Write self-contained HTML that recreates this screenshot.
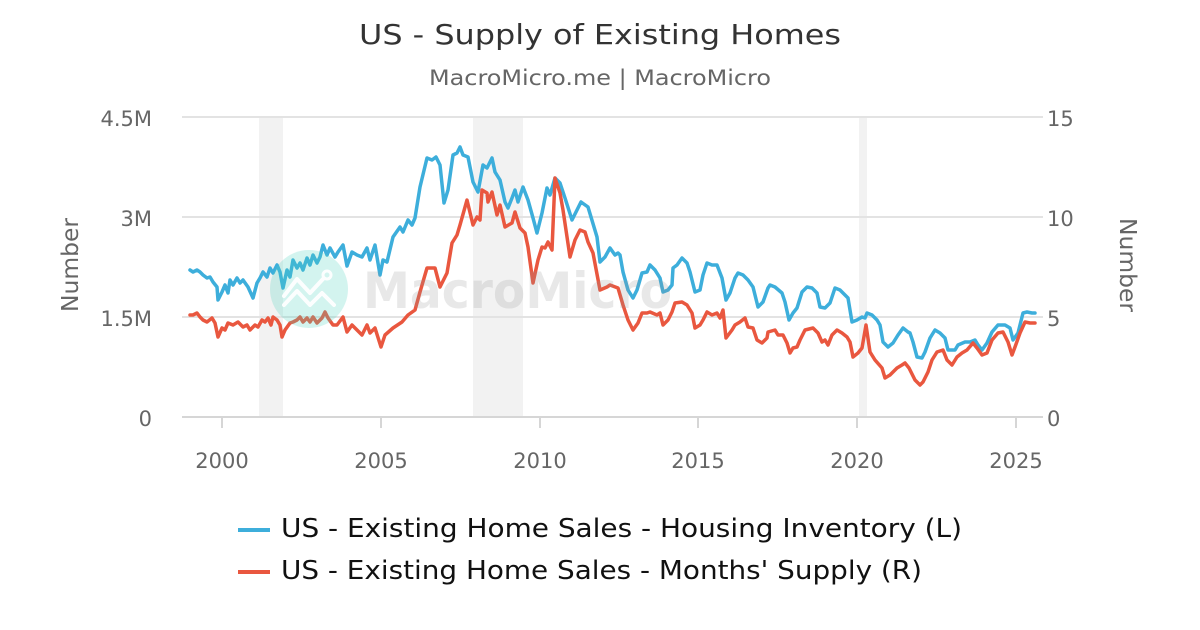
<!DOCTYPE html>
<html><head><meta charset="utf-8"><style>
html,body{margin:0;padding:0;background:#fff;}
svg{display:block;font-family:"DejaVu Sans","Liberation Sans",sans-serif;}
</style></head><body>
<svg width="1200" height="630" viewBox="0 0 1200 630" xmlns="http://www.w3.org/2000/svg">
<rect width="1200" height="630" fill="#fff"/>
<text x="600" y="44" text-anchor="middle" font-size="28" fill="#333" textLength="482" lengthAdjust="spacingAndGlyphs">US - Supply of Existing Homes</text>
<text x="600" y="85" text-anchor="middle" font-size="21" fill="#666" textLength="342" lengthAdjust="spacingAndGlyphs">MacroMicro.me | MacroMicro</text>

<rect x="259" y="117" width="24" height="300" fill="#f2f2f2"/>
<rect x="473" y="117" width="50" height="300" fill="#f2f2f2"/>
<rect x="859" y="117" width="8" height="300" fill="#f2f2f2"/>

<g stroke="#e3e3e3" stroke-width="2">
<line x1="182" y1="117" x2="1043" y2="117"/>
<line x1="182" y1="217" x2="1043" y2="217"/>
<line x1="182" y1="317" x2="1043" y2="317"/>
</g>
<line x1="182" y1="417" x2="1043" y2="417" stroke="#d6d6d6" stroke-width="2"/>
<g stroke="#d6d6d6" stroke-width="2">
<line x1="222" y1="417" x2="222" y2="428"/>
<line x1="381" y1="417" x2="381" y2="428"/>
<line x1="540" y1="417" x2="540" y2="428"/>
<line x1="698" y1="417" x2="698" y2="428"/>
<line x1="857" y1="417" x2="857" y2="428"/>
<line x1="1016" y1="417" x2="1016" y2="428"/>
</g>

<g font-size="21" fill="#666" text-anchor="end">
<text x="152" y="126">4.5M</text>
<text x="152" y="226">3M</text>
<text x="152" y="326">1.5M</text>
<text x="152" y="426">0</text>
</g>
<g font-size="21" fill="#666" text-anchor="start">
<text x="1047" y="126">15</text>
<text x="1047" y="226">10</text>
<text x="1047" y="326">5</text>
<text x="1047" y="426">0</text>
</g>
<g font-size="21" fill="#666" text-anchor="middle">
<text x="222" y="468">2000</text>
<text x="381" y="468">2005</text>
<text x="540" y="468">2010</text>
<text x="698" y="468">2015</text>
<text x="857" y="468">2020</text>
<text x="1016" y="468">2025</text>
</g>
<text transform="translate(78,265) rotate(-90)" text-anchor="middle" font-size="23" fill="#666" textLength="94" lengthAdjust="spacingAndGlyphs">Number</text>
<text transform="translate(1120,265) rotate(90)" text-anchor="middle" font-size="23" fill="#666" textLength="94" lengthAdjust="spacingAndGlyphs">Number</text>

<polyline fill="none" stroke="#3daedb" stroke-width="3.5" stroke-linejoin="round" stroke-linecap="round" points="190,270 193,272 197,270 200,272 203,275 207,278 210,277 213,282 217,287 218,300 222,292 225,285 228,293 230,280 233,285 237,278 240,283 243,280 248,287 253,298 257,283 260,278 263,272 267,277 270,268 273,273 277,265 280,272 283,288 287,270 290,277 293,260 297,268 300,263 303,270 307,258 310,265 313,255 317,263 320,257 323,245 327,255 330,248 335,257 338,252 343,245 347,266 352,252 357,255 362,257 367,248 370,260 375,245 380,275 383,260 387,262 393,237 400,227 403,232 408,220 412,225 415,218 420,187 427,158 432,160 436,157 440,165 444,203 448,190 453,155 457,153 460,147 463,155 468,157 473,182 478,192 483,165 487,168 492,158 495,172 500,180 505,202 508,208 512,198 515,190 518,202 523,187 528,200 533,218 537,233 542,213 547,188 550,195 555,178 560,183 565,198 572,220 577,210 581,202 588,207 597,237 600,262 605,257 610,248 615,255 618,253 620,255 623,272 628,290 633,298 637,290 642,273 647,272 650,265 655,270 660,278 663,292 668,290 672,285 673,268 677,265 682,258 687,263 690,272 695,292 700,290 703,275 707,263 712,265 717,265 722,278 726,300 730,293 735,278 738,273 743,275 748,280 753,287 758,307 763,302 768,288 770,285 775,287 782,293 785,302 789,320 793,313 797,308 802,292 807,287 812,288 817,293 820,307 825,308 830,303 835,288 840,290 845,295 848,298 852,322 857,320 862,317 865,318 867,313 872,315 877,320 880,325 883,342 888,347 893,343 898,335 903,328 908,332 910,333 913,342 917,357 922,358 925,352 930,338 935,330 940,333 945,338 948,350 955,350 958,345 965,342 970,342 975,340 978,345 982,350 987,343 992,332 998,325 1005,325 1010,328 1013,340 1018,333 1023,313 1027,312 1032,313 1035,313"/>
<polyline fill="none" stroke="#e9573f" stroke-width="3.5" stroke-linejoin="round" stroke-linecap="round" points="190,315 193,315 197,313 200,317 203,320 207,322 212,318 215,323 218,337 222,328 225,330 228,323 233,325 238,322 243,327 247,325 250,330 255,325 258,327 262,320 265,322 268,318 271,325 273,317 277,320 280,325 282,337 285,330 290,323 293,322 297,320 300,317 303,322 307,318 310,322 313,317 317,323 322,318 325,312 328,318 333,325 337,325 343,317 347,332 352,325 362,335 367,325 370,333 375,328 381,347 385,335 393,328 402,322 408,315 415,310 420,292 427,268 435,268 440,287 447,273 452,243 457,235 460,225 467,200 473,225 477,217 480,220 482,190 487,193 488,202 492,192 497,215 500,205 505,227 512,223 515,212 520,228 525,233 528,247 533,283 538,260 542,247 545,248 548,242 552,250 555,178 560,193 563,210 570,257 575,240 580,230 585,232 588,242 593,253 600,290 607,287 610,285 618,288 623,305 628,320 633,330 638,323 642,313 647,313 650,312 657,315 660,313 663,325 668,320 672,312 675,303 682,302 687,305 692,313 695,328 700,325 703,320 707,312 712,315 717,313 720,318 723,310 726,338 732,330 735,325 740,322 745,318 748,327 753,328 757,340 762,343 767,338 768,332 775,330 778,335 783,335 787,343 790,353 793,348 797,347 800,340 805,330 813,328 818,333 822,342 825,340 828,345 832,335 837,330 842,333 847,337 850,342 853,357 858,353 862,348 866,325 870,352 875,360 882,368 885,378 890,375 897,368 902,365 905,363 909,368 915,380 920,385 923,382 928,372 932,360 937,352 943,350 947,360 952,365 957,357 962,353 967,350 973,343 977,348 982,355 987,353 992,340 998,333 1003,332 1008,342 1012,355 1015,347 1020,333 1025,322 1030,323 1035,323"/>

<circle cx="309" cy="289" r="39" fill="rgb(80,210,190)" fill-opacity="0.25"/>
<g fill="none" stroke="#fff" stroke-width="4" stroke-linecap="round" stroke-linejoin="round" opacity="0.95">
<polyline points="284,296 297,279 310,293 323,279"/>
<circle cx="327" cy="275" r="4" stroke-width="3"/>
<polyline points="284,305 297,291 310,305 322,293 334,305"/>
</g>
<text x="363" y="308" font-size="50" font-weight="bold" fill="rgb(150,150,150)" fill-opacity="0.22" textLength="309" lengthAdjust="spacingAndGlyphs">MacroMicro</text>

<line x1="238" y1="530" x2="270" y2="530" stroke="#3daedb" stroke-width="4"/>
<text x="281" y="537" font-size="26" fill="#111" textLength="681" lengthAdjust="spacingAndGlyphs">US - Existing Home Sales - Housing Inventory (L)</text>
<line x1="238" y1="572" x2="270" y2="572" stroke="#e9573f" stroke-width="4"/>
<text x="281" y="579" font-size="26" fill="#111" textLength="641" lengthAdjust="spacingAndGlyphs">US - Existing Home Sales - Months' Supply (R)</text>
</svg>
</body></html>
